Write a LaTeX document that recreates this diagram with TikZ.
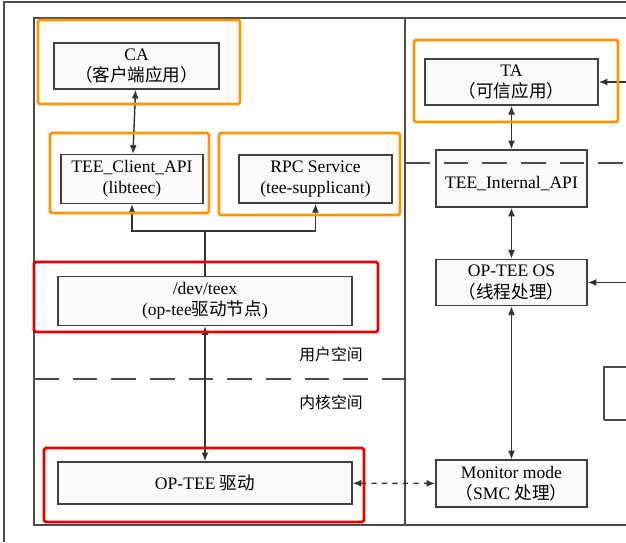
\documentclass[tikz,border=0pt]{standalone}
\usepackage{fontspec}
\setmainfont{Liberation Serif}
\newfontfamily\cjk{Noto Sans CJK SC}
\usetikzlibrary{arrows.meta}
\tikzset{
    block/.style={
           rectangle,
           draw=black!75, thick,
           fill=black!2,
           align=center,
           font=\fontsize{10}{12}\selectfont,
           text centered},
    hilite/.style={draw=orange!85!yellow, line width=1.6pt, rounded corners=1pt},
    alert/.style={draw=red!90!black, line width=1.6pt, rounded corners=1pt},
    link/.style={draw=black!80, thick, {Latex[length=5pt,width=4pt]}-{Latex[length=5pt,width=4pt]}},
    oneway/.style={draw=black!80, thick, -{Latex[length=5pt,width=4pt]}},
}

\begin{document}
\begin{tikzpicture}[x=0.02cm,y=-0.02cm]
 \useasboundingbox (0,0) rectangle (626,542);

 % frames
 \draw[black!70, thick] (4,542) -- (4,2) -- (626,2);
 \draw[black!70, thick] (626,18) -- (34,18) -- (34,525) -- (626,525);
 \draw[black!70, thick] (405,18) -- (405,525);
 \draw[black!70, thick] (604,420) -- (604,367) -- (630,367);
 \draw[black!70, thick] (604,420) -- (630,420);

 % normal world
 \node[block, minimum width=3.3cm, minimum height=0.88cm] (CA) at (136.5,66)
 {CA\\{\cjk （客户端应用）}};
 \node[block, minimum width=2.84cm, minimum height=0.88cm] (CLIENT) at (132,179)
 {TEE\_Client\_API\\(libteec)};
 \node[block, minimum width=3.06cm, minimum height=0.88cm] (RPC) at (315.5,179)
 {RPC Service\\(tee-supplicant)};
 \node[block, minimum width=5.88cm, minimum height=0.84cm] (TEEX) at (205,301)
 {/dev/teex\\(op-tee{\cjk 驱动节点})};
 \node[block, minimum width=5.88cm, minimum height=0.84cm] (DRIVER) at (205,483)
 {OP-TEE {\cjk 驱动}};

 % secure world
 \node[block, minimum width=3.46cm, minimum height=0.82cm] (TA) at (511.5,82)
 {TA\\{\cjk （可信应用）}};
 \node[block, minimum width=3.02cm, minimum height=1.14cm] (INTERNAL) at (511.5,178.5)
 {\\[1pt]TEE\_Internal\_API};
 \node[block, minimum width=3.02cm, minimum height=0.82cm] (OS) at (511.5,282.5)
 {OP-TEE OS\\{\cjk （线程处理）}};
 \node[block, minimum width=3.02cm, minimum height=0.86cm] (MONITOR) at (511.5,483.5)
 {Monitor mode\\{\cjk （}SMC {\cjk 处理）}};

 \coordinate (SPLIT) at (205,231);
 \coordinate (TAIN) at (626,82);
 \coordinate (OSIN) at (626,282.5);

 % space labels
 \draw[black!70, thick, dash pattern=on 14pt off 8pt] (34,379) -- (405,379);
 \draw[black!70, thick, dash pattern=on 14pt off 8pt] (405,163) -- (626,163);
 \node[font=\cjk\fontsize{9}{11}\selectfont] (USER) at (331,354) {用户空间};
 \node[font=\cjk\fontsize{9}{11}\selectfont] (KERNEL) at (331,402) {内核空间};

 % connectors
 \path[link] (CA) -- (CLIENT);
 \draw[thick, black!80] (SPLIT) -- (TEEX.north);
 \draw[oneway] (SPLIT) -| (CLIENT.south);
 \draw[oneway] (SPLIT) -| (RPC.south);
 \path[link] (TEEX) -- (DRIVER);
 \path[link, dashed] (DRIVER) -- (MONITOR);
 \path[link] (TA) -- (INTERNAL);
 \path[link] (INTERNAL) -- (OS);
 \path[link] (OS) -- (MONITOR);
 \draw[oneway] (TAIN) -- (TA.east);
 \draw[oneway] (OSIN) -- (OS.east);

 % highlights
 \draw[hilite] (38,20) rectangle (240,104);
 \draw[hilite] (50,133) rectangle (209,213);
 \draw[hilite] (219,133) rectangle (400,215);
 \draw[hilite] (414,40) rectangle (618,122);
 \draw[alert] (34,262) rectangle (378,332);
 \draw[alert] (44,448) rectangle (364,522);

\end{tikzpicture}
\end{document}
